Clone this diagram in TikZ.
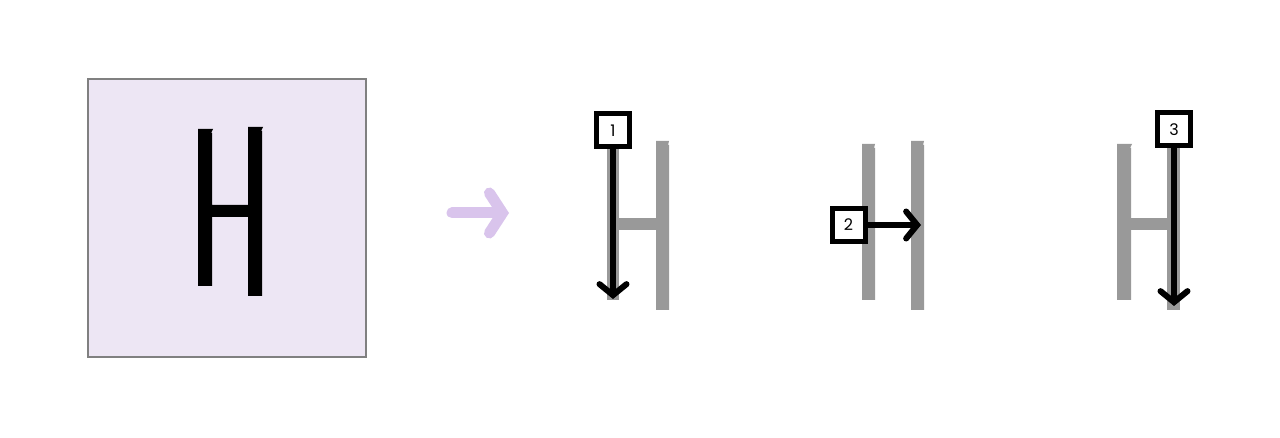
\documentclass[tikz,border=0pt]{standalone}
\usepackage{fontspec}
\setmainfont{Poppins}
\usetikzlibrary{arrows.meta}
\definecolor{boxfill}{RGB}{237,230,244}
\definecolor{boxedge}{RGB}{128,128,128}
\definecolor{lilac}{RGB}{217,196,236}
\definecolor{strokegray}{RGB}{153,153,153}
\tikzset{
  numbox/.style={draw=black, line width=5pt, fill=white, minimum size=33pt, inner sep=0pt, font=\fontsize{16}{16}\selectfont},
  orderarrow/.style={draw=black, line width=6pt, -{Straight Barb[length=11pt,width=27pt,line cap=round]}},
  grayst/.style={fill=strokegray, draw=none},
  blackst/.style={fill=black, draw=none}
}
\begin{document}
\begin{tikzpicture}[x=1pt,y=-1pt]
\useasboundingbox (0,0) rectangle (1280,438);
% framed letter
\draw[fill=boxfill, draw=boxedge, line width=2pt] (88,79) rectangle (366,357);
\fill[blackst] (198,129) -- (213,129) -- (211,133) -- (212,133) -- (212,205) -- (248,205) -- (248,127) -- (263,127) -- (261,131) -- (262,131) -- (262,296) -- (248,296) -- (248,217) -- (212,217) -- (212,286) -- (198,286) -- cycle;
% purple arrow
\coordinate (pa) at (452,213);
\coordinate (pb) at (509,213);
\draw[lilac, line width=11pt, line cap=round, -{Straight Barb[length=13pt,width=40pt,line cap=round]}] (pa) -- (pb);
% H 1
\fill[grayst] (607,144) rectangle (619,300);
\fill[grayst] (656,141) -- (669,141) -- (668,145) -- (669,145) -- (669,310) -- (656,310) -- cycle;
\fill[grayst] (619,218) rectangle (656,230);
\node[numbox] (b1) at (613,130.5) {1};
\coordinate (e1) at (613,299);
\draw[orderarrow] (b1.south) -- (e1);
% H 2
\fill[grayst] (862,144) -- (875,144) -- (874,148) -- (875,148) -- (875,300) -- (862,300) -- cycle;
\fill[grayst] (911,141) -- (924,141) -- (923,145) -- (924,145) -- (924,310) -- (911,310) -- cycle;
\node[numbox] (b2) at (848.5,225) {2};
\coordinate (e2) at (921,225);
\draw[orderarrow] (b2.east) -- (e2);
% H 3
\fill[grayst] (1117,144) -- (1132,144) -- (1130,148) -- (1131,148) -- (1131,300) -- (1117,300) -- cycle;
\fill[grayst] (1167,147) rectangle (1180,310);
\fill[grayst] (1131,218) rectangle (1167,230);
\node[numbox] (b3) at (1174,129.5) {3};
\coordinate (e3) at (1174,306);
\draw[orderarrow] (b3.south) -- (e3);
\end{tikzpicture}
\end{document}
